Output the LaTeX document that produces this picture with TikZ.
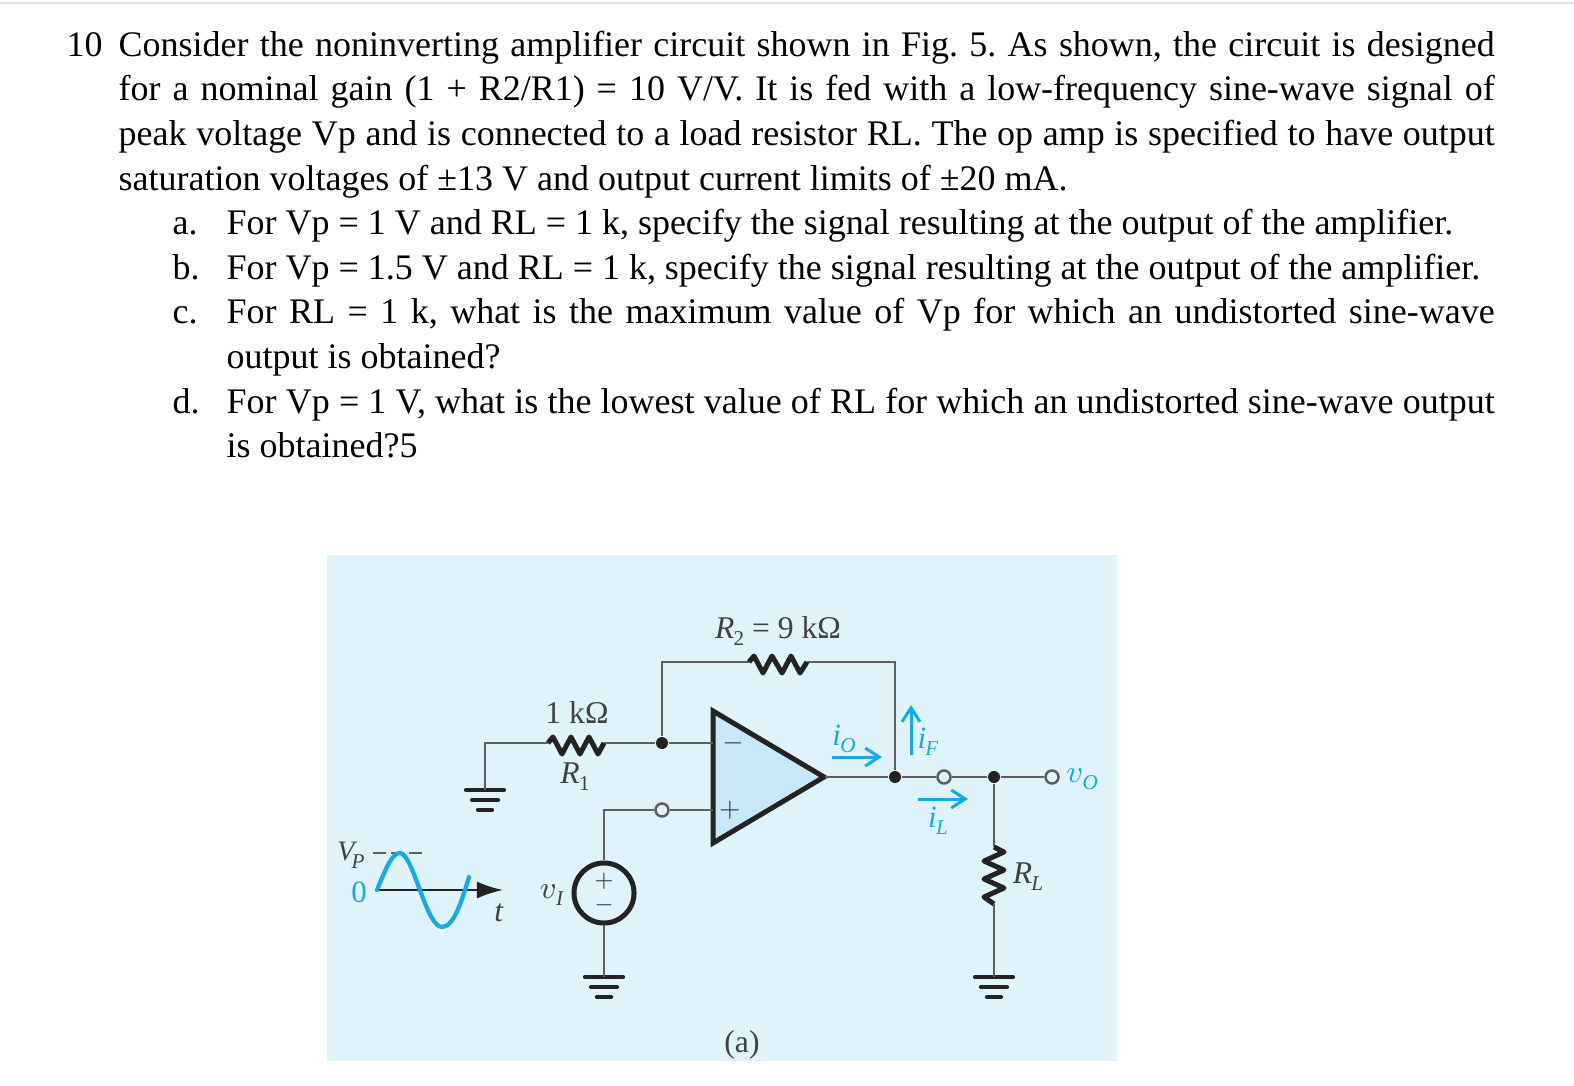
\documentclass[tikz,border=0pt]{standalone}
\usepackage{fontspec}
\setmainfont{Liberation Serif}
\usetikzlibrary{arrows.meta}
\definecolor{panelblue}{RGB}{224,243,251}
\definecolor{ampblue}{RGB}{200,232,249}
\definecolor{sigblue}{RGB}{20,170,230}
\definecolor{wiregray}{RGB}{95,95,95}
\definecolor{inkblack}{RGB}{35,35,35}
\definecolor{labgray}{RGB}{65,65,65}
\newcommand{\fitline}[2]{\hbox to #1{#2}}
\newcommand{\itsub}[2]{\textit{#1}\kern-0.2pt\raisebox{-0.22em}{\fontsize{6}{7}\selectfont\textit{#2}}}
\newcommand{\numsub}[2]{\textit{#1}\kern-0.2pt\raisebox{-0.22em}{\fontsize{6}{7}\selectfont #2}}
\newcommand{\vsub}[1]{$v$\kern-0.2pt\raisebox{-0.22em}{\fontsize{6}{7}\selectfont\textit{#1}}}
\tikzset{
	x=0.01cm, y=-0.01cm,
	wire/.style={draw=wiregray, line width=0.22mm},
	res/.style={draw=inkblack, line width=0.5mm, line join=round},
	txtline/.style={anchor=base west, inner sep=0pt, font=\fontsize{10.23}{12}\selectfont\frenchspacing, text=black},
	lab/.style={inner sep=0pt, text=labgray, font=\fontsize{9}{10}\selectfont},
	siglab/.style={inner sep=0pt, text=sigblue, font=\fontsize{8.8}{10}\selectfont},
	signlab/.style={inner sep=0pt, text=labgray, font=\fontsize{7.5}{8}\selectfont},
	srcsign/.style={inner sep=0pt, text=labgray, font=\fontsize{6}{7}\selectfont},
	dotj/.style={circle, fill=inkblack, inner sep=0pt, minimum size=0.12cm},
	openj/.style={circle, draw=wiregray, fill=panelblue, line width=0.25mm, inner sep=0pt, minimum size=0.13cm},
	curarrow/.style={draw=sigblue, line width=0.3mm, -{Straight Barb[length=1.4mm,width=1.8mm]}},
	gndbar/.style={draw=inkblack, line width=0.42mm, line cap=round}
}
\newcommand{\gnd}[3]{% x, y, name
	\coordinate (#3) at (#1,#2);
	\draw[gndbar] (#1-19,#2) -- (#1+19,#2);
	\draw[gndbar] (#1-13,#2+10) -- (#1+13,#2+10);
	\draw[gndbar] (#1-7,#2+20) -- (#1+7,#2+20);
}
\begin{document}
\begin{tikzpicture}
	\useasboundingbox (0,0) rectangle (1574,1085);
	\fill[white] (0,0) rectangle (1574,1085);
	\draw[black!12, line width=0.25mm] (0,3) -- (1574,3);

	%%%%% TEXT %%%%%
	\node[txtline] (num) at (66,57) {10};
	\node[txtline] (l1) at (118,57) {\fitline{1376\dimexpr 0.01cm\relax}{Consider the noninverting amplifier circuit shown in Fig. 5. As shown, the circuit is designed}};
	\node[txtline] (l2) at (118,101) {\fitline{1376\dimexpr 0.01cm\relax}{for a nominal gain (1 + R2/R1) = 10 V/V. It is fed with a low-frequency sine-wave signal of}};
	\node[txtline] (l3) at (118,146) {\fitline{1376\dimexpr 0.01cm\relax}{peak voltage Vp and is connected to a load resistor RL. The op amp is specified to have output}};
	\node[txtline] (l4) at (118,190) {saturation voltages of ±13 V and output current limits of ±20 mA.};
	\node[txtline] (la) at (172,234) {a.};
	\node[txtline] (l5) at (226,234) {For Vp = 1 V and RL = 1 k, specify the signal resulting at the output of the amplifier.};
	\node[txtline] (lb) at (172,279) {b.};
	\node[txtline] (l6) at (226,279) {For Vp = 1.5 V and RL = 1 k, specify the signal resulting at the output of the amplifier.};
	\node[txtline] (lc) at (172,323) {c.};
	\node[txtline] (l7) at (226,323) {\fitline{1268\dimexpr 0.01cm\relax}{For RL = 1 k, what is the maximum value of Vp for which an undistorted sine-wave}};
	\node[txtline] (l8) at (226,368) {output is obtained?};
	\node[txtline] (ld) at (172,413) {d.};
	\node[txtline] (l9) at (226,413) {\fitline{1268\dimexpr 0.01cm\relax}{For Vp = 1 V, what is the lowest value of RL for which an undistorted sine-wave output}};
	\node[txtline] (l10) at (226,457) {is obtained?5};

	%%%%% FIGURE %%%%%
	\fill[panelblue] (327,555) rectangle (1117,1061);

	% op amp
	\draw[draw=inkblack, fill=ampblue, line width=0.5mm, line join=miter] (713,711) -- (824,777) -- (713,843) -- cycle;
	\node[signlab] (minus) at (733,743) {$-$};
	\node[signlab] (plus) at (730,810) {$+$};

	% junctions
	\node[dotj] (jm) at (662,743) {};
	\node[openj] (jp) at (662,810) {};
	\node[dotj] (jo) at (895,777) {};
	\node[openj] (jt) at (944,777) {};
	\node[dotj] (jl) at (994,777) {};
	\node[openj] (jv) at (1052,777) {};

	% feedback
	\coordinate (r2a) at (749,662);
	\coordinate (r2b) at (807,662);
	\draw[wire] (jm) -- (662,662) -- (r2a);
	\draw[wire] (r2b) -- (895,662) -- (jo);
	\draw[res] (r2a) -- ++(5,-6) -- ++(9,17) -- ++(9,-17) -- ++(10,17) -- ++(9,-17) -- ++(9,17) -- (r2b);
	\draw[wire] (713,743) -- (jm);
	\draw[wire] (713,810) -- (jp);
	\draw[wire] (825,777) -- (jo) -- (jt) -- (jl) -- (jv);

	% R1 and its ground
	\coordinate (r1a) at (548,743);
	\coordinate (r1b) at (604,743);
	\draw[wire] (jm) -- (r1b);
	\draw[res] (r1a) -- ++(5,-6) -- ++(9,17) -- ++(9,-17) -- ++(9,17) -- ++(9,-17) -- ++(9,17) -- (r1b);
	\gnd{485}{790}{g1}
	\draw[wire] (r1a) -- (485,743) -- (g1);

	% source
	\node[circle, draw=inkblack, line width=0.5mm, fill=panelblue, inner sep=0pt, minimum size=0.6cm] (src) at (604,893) {};
	\node[srcsign] (srcp) at (604,881) {$+$};
	\node[srcsign] (srcm) at (604,905) {$-$};
	\gnd{604}{977}{g2}
	\draw[wire] (jp) -- (604,810) -- (src);
	\draw[wire] (src) -- (g2);

	% load
	\coordinate (rla) at (994,847);
	\coordinate (rlb) at (994,904);
	\gnd{994}{977}{g3}
	\draw[wire] (jl) -- (rla);
	\draw[res] (rla) -- ++(10,5) -- ++(-20,9) -- ++(20,9) -- ++(-20,9) -- ++(20,9) -- ++(-20,9) -- (rlb);
	\draw[wire] (rlb) -- (g3);

	% signal
	\draw[inkblack, line width=0.22mm, -{Latex[length=2.6mm,width=1.7mm]}] (377,890) -- (503,890);
	\draw[wiregray, line width=0.22mm, dash pattern=on 1.3mm off 0.5mm] (373,853) -- (425,853);
	\draw[sigblue, line width=0.42mm, line cap=round] (377,890) .. controls (386,868) and (392,853) .. (400,853) .. controls (413,853) and (426,927) .. (442,927) .. controls (454,927) and (462,900) .. (469,877);

	% current arrows
	\draw[curarrow] (832,757) -- (882,757);
	\draw[curarrow] (911,755) -- (911,705);
	\draw[curarrow] (918,799) -- (968,799);

	% labels
	\node[lab] (r2lab) at (778,631) {\numsub{R}{2} = 9 kΩ};
	\node[lab] (r1lab) at (577,713) {1 kΩ};
	\node[lab] (r1name) at (575,777) {\numsub{R}{1}};
	\node[lab] (rlname) at (1028,877) {\itsub{R}{L}};
	\node[lab, font=\fontsize{8}{10}\selectfont] (vp) at (351,855) {\textit{V}\kern-1.6pt\raisebox{-0.3em}{\fontsize{6}{7}\selectfont\textit{P}}};
	\node[siglab] (zero) at (359,892) {0};
	\node[lab] (tlab) at (499,913) {\textit{t}};
	\node[lab] (vi) at (552,895) {\vsub{I}};
	\node[siglab] (io) at (844,739) {\itsub{i}{O}};
	\node[siglab] (if) at (928,742) {\itsub{i}{F}};
	\node[siglab] (il) at (938,821) {\itsub{i}{L}};
	\node[siglab] (vo) at (1082,779) {\vsub{O}};
	\node[lab] (caption) at (742,1045) {(a)};
\end{tikzpicture}
\end{document}
